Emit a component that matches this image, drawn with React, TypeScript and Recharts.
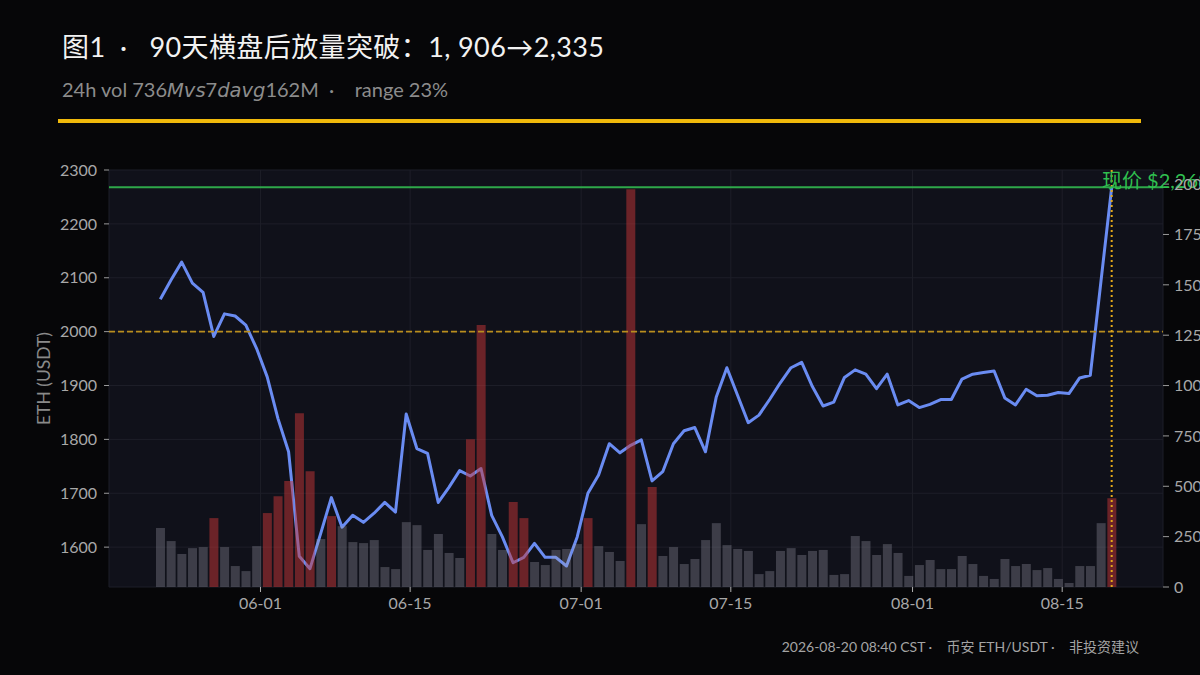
import React from 'react';
import {
  ComposedChart,
  Bar,
  Line,
  XAxis,
  YAxis,
  CartesianGrid,
  ReferenceLine,
  Label,
} from 'recharts';

// ---------------- data ----------------
const START_DATE = '2026-05-23';

const prices = [
  2060, 2096, 2129, 2090, 2073, 1991, 2033, 2029, 2012, 1969,
  1916, 1839, 1777, 1583, 1560, 1625, 1692, 1637, 1659, 1646,
  1663, 1683, 1665, 1847, 1783, 1774, 1683, 1711, 1742, 1732,
  1746, 1659, 1619, 1571, 1581, 1607, 1581, 1581, 1565, 1619,
  1700, 1734, 1792, 1775, 1789, 1799, 1723, 1740, 1792, 1816,
  1822, 1777, 1878, 1933, 1882, 1831, 1845, 1874, 1905, 1933,
  1943, 1898, 1862, 1869, 1915, 1929, 1921, 1894, 1921, 1864,
  1872, 1859, 1865, 1874, 1874, 1912, 1921, 1924, 1927, 1877,
  1864, 1893, 1881, 1882, 1887, 1885, 1914, 1919, 2094, 2268,
];

const volumes = [
  293, 228, 164, 193, 198, 342, 198, 104, 79, 203,
  367, 451, 526, 863, 575, 238, 352, 302, 223, 218,
  233, 99, 89, 322, 307, 184, 263, 169, 144, 734,
  1300, 263, 184, 422, 342, 124, 109, 184, 189, 213,
  342, 203, 174, 129, 1974, 312, 496, 154, 198, 114,
  139, 233, 317, 208, 189, 179, 64, 79, 179, 193,
  159, 179, 184, 60, 64, 253, 228, 159, 213, 169,
  55, 109, 134, 89, 89, 154, 114, 55, 40, 139,
  104, 114, 84, 94, 40, 20, 104, 104, 317, 441,
];

const tickLabels = ['06-01', '06-15', '07-01', '07-15', '08-01', '08-15'];
const priceTicks = [1600, 1700, 1800, 1900, 2000, 2100, 2200, 2300];
const volTicks = [0, 250, 500, 750, 1000, 1250, 1500, 1750, 2000];

const CURRENT_PRICE = 2268;
const BREAKOUT_LEVEL = 2000;
const SPIKE_THRESHOLD = 330;
const TICK_OFFSET = 0.37; // ticks sit at midnight, points later in the day

const TITLE = '图1  ·   90天横盘后放量突破：1, 906→2,335';
const FOOTER = '2026-08-20 08:40 CST ·    币安 ETH/USDT ·    非投资建议';

// ---------------- derived ----------------
const pad = (n: number) => (n < 10 ? '0' + n : '' + n);
const start = new Date(START_DATE + 'T00:00:00Z');
const dates = prices.map((_, i) => {
  const d = new Date(start.getTime() + i * 86400000);
  return pad(d.getUTCMonth() + 1) + '-' + pad(d.getUTCDate());
});

const data = prices.map((p, i) => ({
  x: i,
  price: p,
  volGray: volumes[i] > SPIKE_THRESHOLD ? 0 : volumes[i],
  volRed: volumes[i] > SPIKE_THRESHOLD ? volumes[i] : 0,
}));

const tickPositions = tickLabels.map((l) => dates.indexOf(l) + TICK_OFFSET);
const tickFmt = (v: number) => {
  const k = tickPositions.findIndex((t) => Math.abs(t - v) < 0.01);
  return k >= 0 ? tickLabels[k] : '';
};

const FONT = "Lato, 'Noto Sans CJK SC', sans-serif";
const MATH_FONT = "'DejaVu Sans', sans-serif";
const LAST_X = data.length - 1;

const PriceLabel = (props: any) => {
  const vb = props.viewBox || {};
  const x = (vb.x || 0) + (vb.width || 0) - 61;
  const y = (vb.y || 0) + 1;
  return (
    <text x={x} y={y} fill="#2fbf4f" fontSize={20} fontFamily={FONT}>
      {`现价 $${CURRENT_PRICE.toLocaleString('en-US')}`}
    </text>
  );
};

const AxisTitle = (props: any) => {
  const vb = props.viewBox || {};
  const cx = (vb.x || 0) + 23;
  const cy = (vb.y || 0) + (vb.height || 0) / 2;
  return (
    <text
      x={cx}
      y={cy}
      transform={`rotate(-90 ${cx} ${cy})`}
      textAnchor="middle"
      dominantBaseline="central"
      fill="#8a8a8a"
      fontSize={17.5}
      fontFamily={FONT}
    >
      ETH (USDT)
    </text>
  );
};

export default function App() {
  return (
    <div
      style={{
        position: 'absolute',
        left: 0,
        top: 0,
        width: 1200,
        height: 675,
        background: '#060608',
        overflow: 'hidden',
      }}
    >
      <div style={{ position: 'absolute', left: 0, top: 0 }}>
        <ComposedChart
          width={1200}
          height={675}
          data={data}
          margin={{ top: 170, right: 0, bottom: 58, left: 20 }}
        >
          <CartesianGrid
            yAxisId="price"
            fill="#10111a"
            fillOpacity={1}
            stroke="#1d1e28"
            strokeWidth={1}
          />
          <XAxis
            dataKey="x"
            type="number"
            domain={[-4.8, 93.8]}
            ticks={tickPositions}
            tickFormatter={tickFmt}
            interval={0}
            height={30}
            axisLine={false}
            tickSize={5}
            tickMargin={6}
            tickLine={{ stroke: '#b0b0b0' }}
            tick={{ fill: '#a8a8a8', fontSize: 16, fontFamily: FONT }}
          />
          <YAxis
            yAxisId="price"
            orientation="left"
            width={89}
            domain={[1526, 2300]}
            ticks={priceTicks}
            allowDataOverflow
            axisLine={false}
            tickSize={5}
            tickMargin={7}
            tickLine={{ stroke: '#9a9a9a' }}
            tick={{ fill: '#a8a8a8', fontSize: 16, fontFamily: FONT }}
          >
            <Label content={<AxisTitle />} />
          </YAxis>
          <YAxis
            yAxisId="vol"
            orientation="right"
            width={37}
            domain={[0, 2070]}
            ticks={volTicks}
            allowDataOverflow
            axisLine={false}
            tickSize={6}
            tickMargin={5}
            tickLine={{ stroke: '#9a9a9a' }}
            tick={{ fill: '#a8a8a8', fontSize: 16, fontFamily: FONT, textAnchor: 'start' }}
          />
          <Line
            yAxisId="price"
            dataKey="price"
            type="linear"
            stroke="#6a8cf2"
            strokeWidth={3}
            strokeLinejoin="round"
            dot={false}
            activeDot={false}
            isAnimationActive={false}
            zIndex={250}
          />
          <Bar
            yAxisId="vol"
            dataKey="volGray"
            stackId="v"
            barSize={9}
            fill="#a5a7b3"
            fillOpacity={0.3}
            isAnimationActive={false}
          />
          <Bar
            yAxisId="vol"
            dataKey="volRed"
            stackId="v"
            barSize={9}
            fill="#c63636"
            fillOpacity={0.5}
            isAnimationActive={false}
          />
          <ReferenceLine
            yAxisId="price"
            y={BREAKOUT_LEVEL}
            stroke="#b98e1e"
            strokeWidth={1.6}
            strokeDasharray="6 3"
            zIndex={600}
          />
          <ReferenceLine
            yAxisId="price"
            x={LAST_X}
            stroke="#e2a81a"
            strokeWidth={2}
            strokeDasharray="2 3"
            zIndex={610}
          />
          <ReferenceLine
            yAxisId="price"
            y={CURRENT_PRICE}
            stroke="#2ea84a"
            strokeWidth={2}
            zIndex={620}
          >
            <Label content={<PriceLabel />} />
          </ReferenceLine>
        </ComposedChart>
      </div>
      <svg
        width={1200}
        height={675}
        style={{ position: 'absolute', left: 0, top: 0, pointerEvents: 'none' }}
      >
        <text
          x={62}
          y={57}
          fill="#f2f2f2"
          fontSize={27}
          letterSpacing={0.4}
          fontFamily={FONT}
          style={{ whiteSpace: 'pre' }}
        >
          {TITLE}
        </text>
        <text
          x={62}
          y={97}
          fill="#8c8c8c"
          fontSize={20}
          fontFamily={FONT}
          style={{ whiteSpace: 'pre' }}
        >
          {'24h vol 736'}
          <tspan fontStyle="italic" fontFamily={MATH_FONT} fontSize={19.5}>Mvs</tspan>
          {'7'}
          <tspan fontStyle="italic" fontFamily={MATH_FONT} fontSize={19.5}>davg</tspan>
          {'162M  ·    range 23%'}
        </text>
        <rect x={58} y={119} width={1083} height={4} fill="#f0b90b" />
        <text
          x={1139}
          y={652}
          textAnchor="end"
          fill="#a4a4a4"
          fontSize={14}
          fontFamily={FONT}
          style={{ whiteSpace: 'pre' }}
        >
          {FOOTER}
        </text>
      </svg>
    </div>
  );
}
